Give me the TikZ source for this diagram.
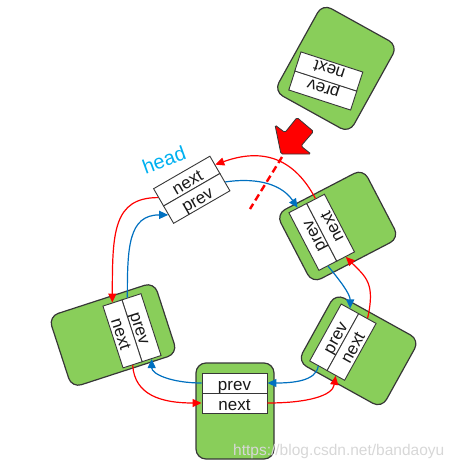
\documentclass[tikz,border=0pt]{standalone}
\usepackage{fontspec}
\setmainfont{Liberation Sans}
\usetikzlibrary{arrows.meta,calc}
\definecolor{cardgreen}{RGB}{137,206,90}
\definecolor{edgegray}{RGB}{55,55,55}
\definecolor{pred}{RGB}{255,0,0}
\definecolor{pblue}{RGB}{0,112,192}
\definecolor{headcyan}{RGB}{0,176,240}
\definecolor{wmark}{RGB}{215,215,215}
\begin{document}
\begin{tikzpicture}[x=1pt,y=-1pt,
  card/.style={draw=edgegray, fill=cardgreen, line width=1.2pt, rounded corners=10pt, inner sep=0pt},
  cell/.style={draw=edgegray, fill=white, line width=0.9pt, minimum width=65pt, minimum height=20pt,
    inner sep=0pt, text height=14pt, text depth=0pt, font=\fontsize{17}{17}\selectfont, text=black!90},
  nxt/.style={draw=pred, line width=1.2pt, -{Triangle[length=9pt,width=8pt]}},
  prv/.style={draw=pblue, line width=1.2pt, -{Triangle[length=9pt,width=8pt]}},
  bigarrow/.style={fill=pred, draw=edgegray, line width=0.8pt, rounded corners=1.5pt},
  dashline/.style={draw=pred, line width=2.4pt, dash pattern=on 7pt off 4pt},
  headlabel/.style={text=headcyan, font=\fontsize{20}{20}\selectfont, inner sep=0pt},
  watermark/.style={text=wmark, font=\fontsize{15.5}{16}\selectfont, inner sep=0pt, anchor=base west}
]
\useasboundingbox (0,0) rectangle (458,467);

% cards
\node[card, minimum width=86pt, minimum height=100pt, rotate=151] (cardF) at (335.9,68.4) {};
\node[card, minimum width=78pt, minimum height=98pt, rotate=117.5] (cardRT) at (337.7,226) {};
\node[card, minimum width=78pt, minimum height=96pt, rotate=61] (cardRL) at (358.6,350.8) {};
\node[card, minimum width=78pt, minimum height=96pt] (cardB) at (235,411) {};
\node[card, minimum width=75pt, minimum height=111pt, rotate=-72] (cardL) at (113,335) {};

% cells
\node[cell, rotate=162] (Fp) at (322.8,90.5) {prev};
\node[cell, rotate=162] (Fn) at (328.8,71.5) {next};
\node[cell, rotate=117.5] (RTp) at (312.8,236.9) {prev};
\node[cell, rotate=117.5] (RTn) at (330.6,227.7) {next};
\node[cell, rotate=61] (RLp) at (334.2,337.3) {prev};
\node[cell, rotate=61] (RLn) at (351.6,347.0) {next};
\node[cell] (Bp) at (234.5,383) {prev};
\node[cell] (Bn) at (234.5,403) {next};
\node[cell, rotate=-72] (Lp) at (141.5,327.7) {prev};
\node[cell, rotate=-72] (Ln) at (122.5,333.9) {next};
\node[cell, rotate=30] (Hn) at (186.75,181.1) {next};
\node[cell, rotate=30] (Hp) at (196.75,198.4) {prev};

\node[headlabel, rotate=20] (headlbl) at (164,160) {head};

% insertion marker
\draw[bigarrow] (281,154) -- (311,154) -- (301,146) -- (313.5,131.5) -- (297,117.5)
  -- (285,132.5) -- (275,125) -- cycle;
\coordinate (cutA) at (282,157);
\coordinate (cutB) at (250,209);
\draw[dashline] (cutA) -- (cutB);

% next pointers
\draw[nxt] (RTn.east) .. controls +(-20,-38) and +(50,-18) .. (Hn.east);
\draw[nxt] (Hn.west) .. controls +(-45,0) and +(0,-70) .. (Ln.west);
\draw[nxt] (Ln.east) .. controls +(2,30) and +(-40,0) .. (Bn.west);
\draw[nxt] (Bn.east) .. controls +(40,0) and +(-3,20) .. (RLn.west);
\draw[nxt] (RLn.east) .. controls +(8,-35) and +(20,20) .. (RTn.west);

% prev pointers
\draw[prv] (Hp.east) .. controls +(35,-5) and +(-15,-22) .. (RTp.east);
\draw[prv] ($(Lp.west)!0.4!(Lp.south west)$) .. controls +(0,-50) and +(-40,0) .. (Hp.west);
\draw[prv] (Bp.west) .. controls +(-30,0) and +(0,15) .. (Lp.east);
\draw[prv] (RLp.west) .. controls +(-2,15) and +(25,0) .. (Bp.east);
\draw[prv] (RTp.west) .. controls +(10,12) and +(0,-15) .. (RLp.east);

\node[watermark] (wm) at (233,455) {https://blog.csdn.net/bandaoyu};
\end{tikzpicture}
\end{document}
